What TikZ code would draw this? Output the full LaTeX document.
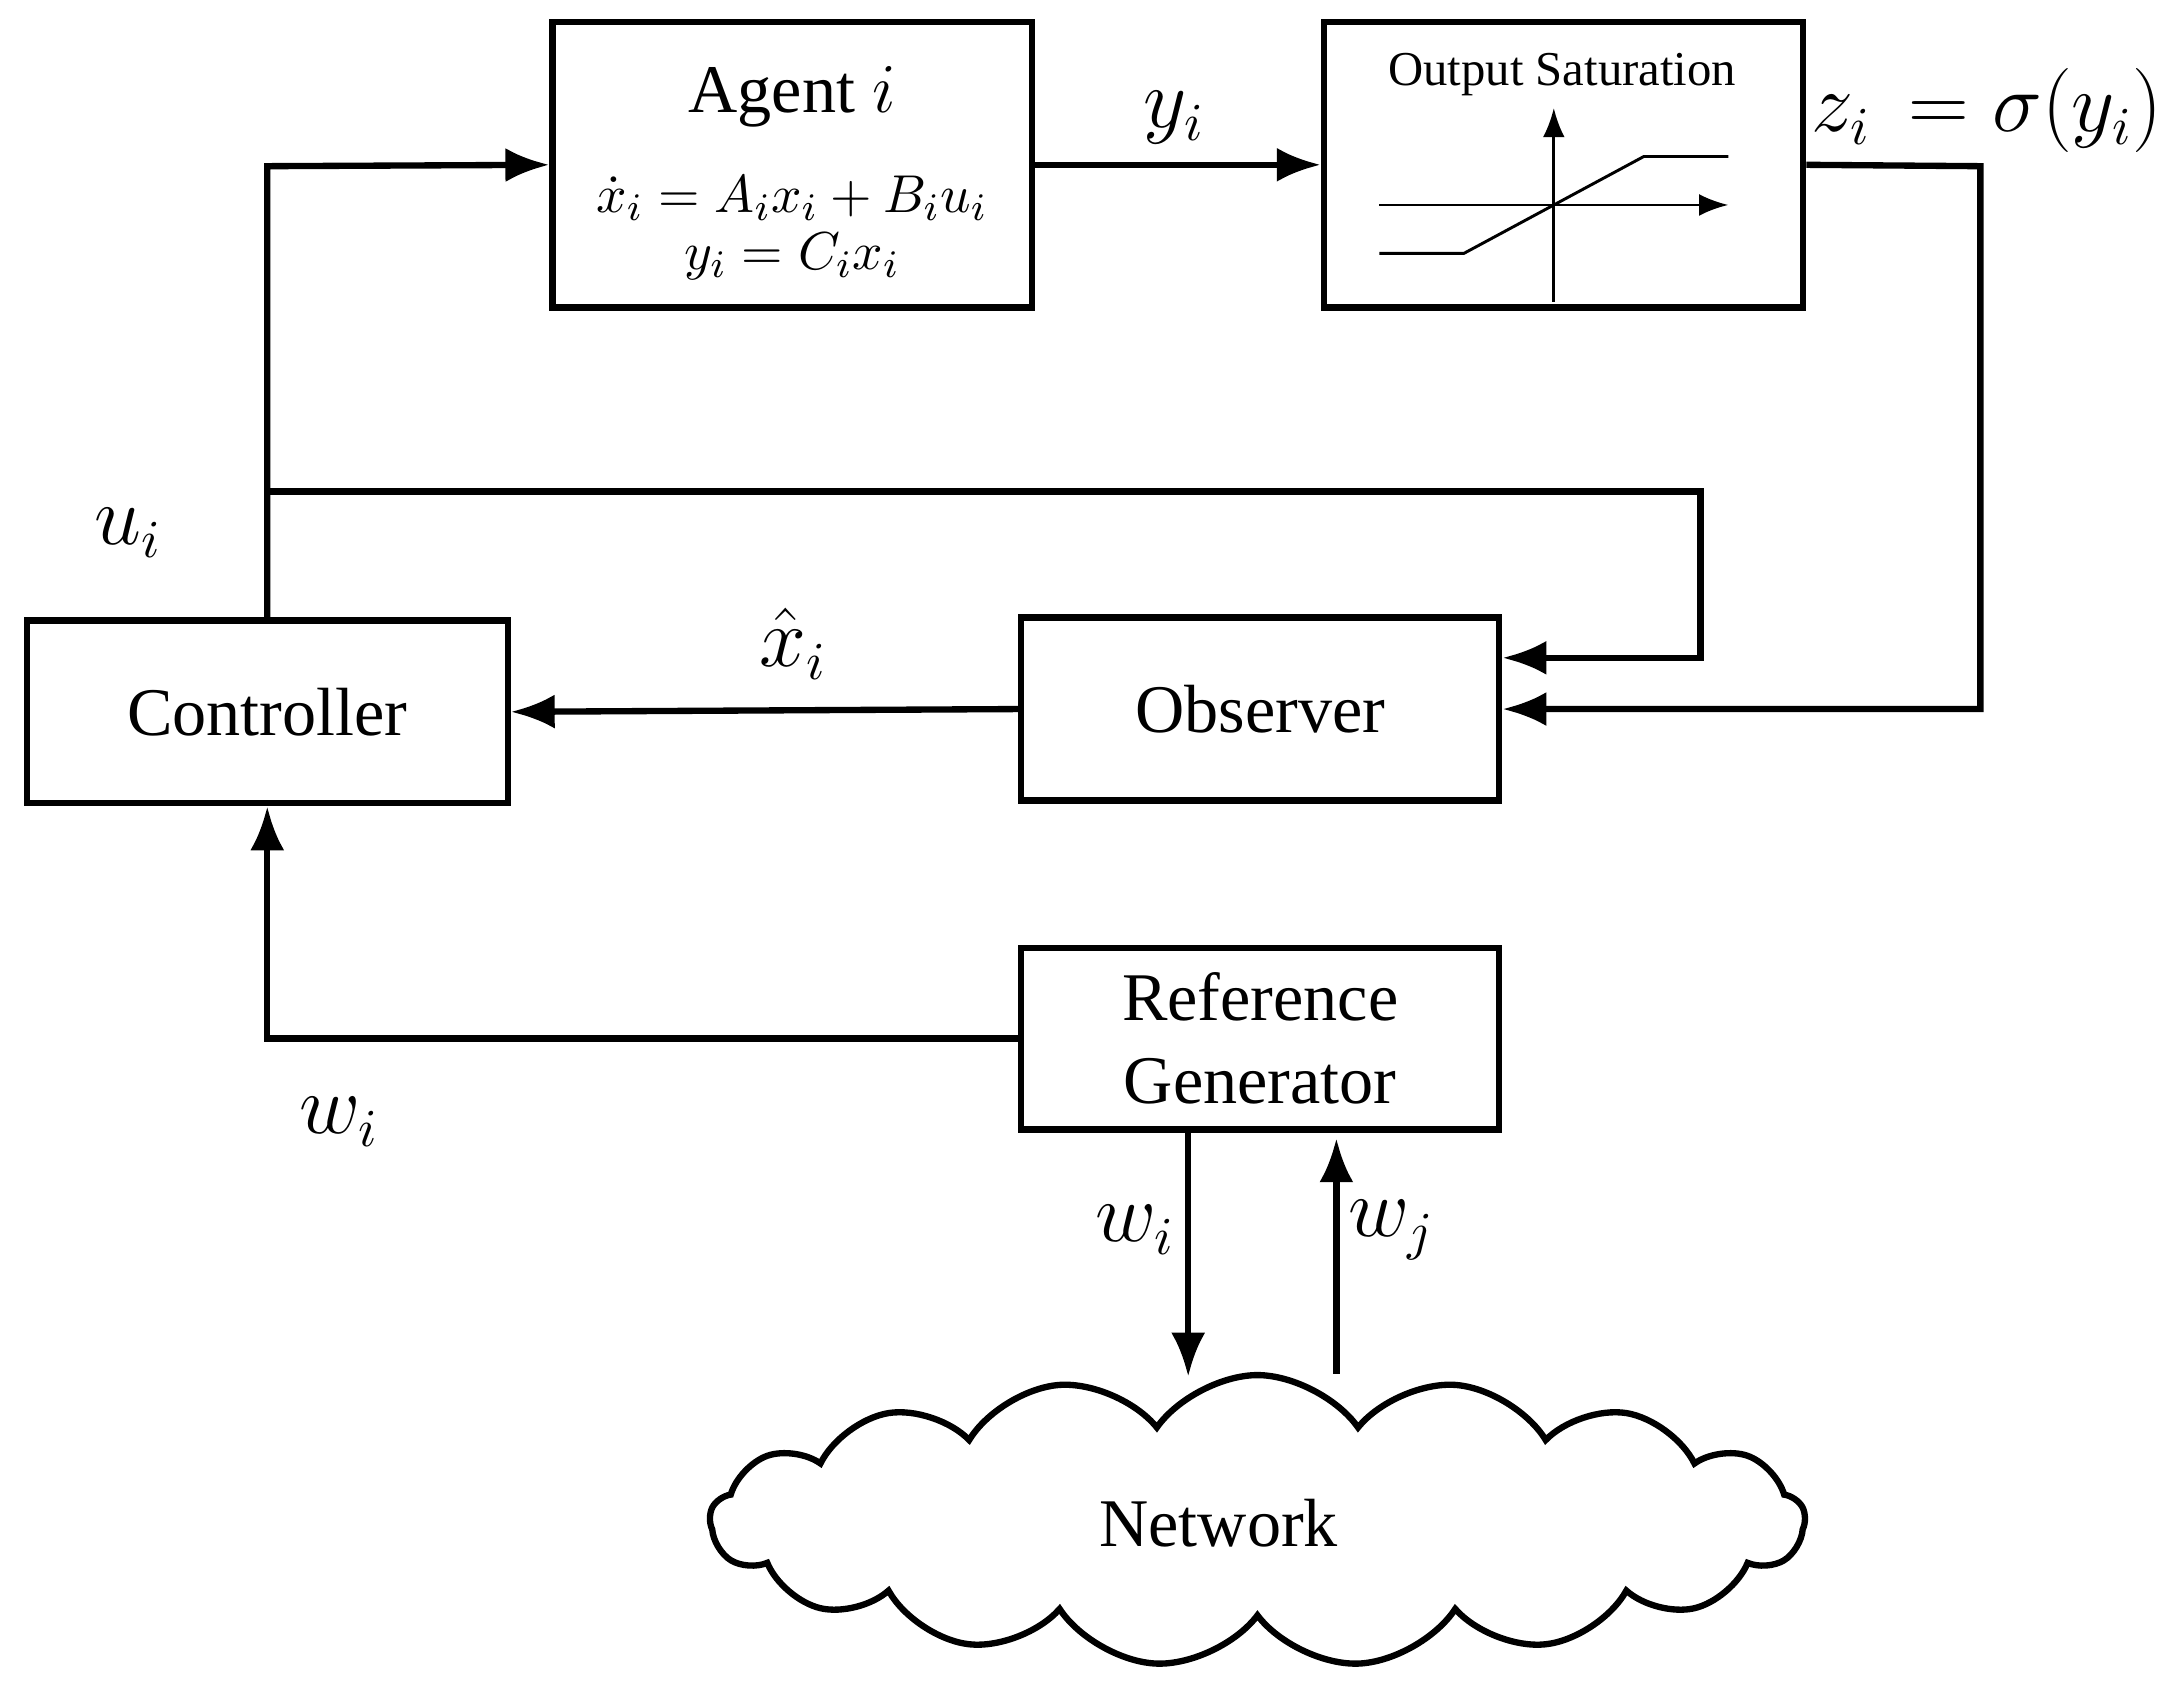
\documentclass[tikz,border=0pt]{standalone}
\usepackage{fontspec}
\setmainfont{Liberation Serif}
\usetikzlibrary{shapes.symbols,arrows.meta}
\begin{document}
\begin{tikzpicture}[x=0.01cm,y=-0.01cm,
  box/.style={draw,line width=1.3pt,inner sep=0pt},
  con/.style={line width=1.3pt,-{Latex[length=9pt,width=7pt]}},
  lbl/.style={font=\fontsize{16}{19}\selectfont},
  txt/.style={font=\fontsize{14}{17}\selectfont},
  eq/.style={font=\fontsize{11}{13}\selectfont,inner sep=0pt}]
\useasboundingbox (0,0) rectangle (1559,1233);
\node[box,minimum width=3.46cm,minimum height=2.06cm] (agent) at (572,119) {};
\node[txt] (agtitle) at (572,70) {Agent $i$};
\node[eq] (eq1) at (572,143) {$\dot{x}_i = A_i x_i + B_i u_i$};
\node[eq] (eq2) at (572,185) {$y_i = C_i x_i$};
\node[box,minimum width=3.46cm,minimum height=2.06cm] (sat) at (1129,119) {};
\node[font=\fontsize{10}{12}\selectfont] (sattitle) at (1128,54) {Output Saturation};
\draw[line width=0.6pt,-{Latex[length=6pt]}] (996,148) -- (1248,148);
\draw[line width=0.6pt,-{Latex[length=6pt]}] (1122,218) -- (1122,78);
\draw[line width=0.6pt] (996,183) -- (1057,183) -- (1187,113) -- (1248,113);
\node[box,minimum width=3.47cm,minimum height=1.32cm,txt] (ctrl) at (193,514) {Controller};
\node[box,minimum width=3.45cm,minimum height=1.32cm,txt] (obs) at (910,512) {Observer};
\node[box,minimum width=3.45cm,minimum height=1.31cm,txt,align=center] (ref) at (910,750) {Reference\\Generator};
\node[cloud,draw,line width=1.3pt,cloud puffs=17,cloud puff arc=110,aspect=3.7,minimum width=7.9cm,minimum height=2.1cm] (net) at (908,1098) {};
\node[txt] (nettxt) at (880,1100) {Network};
\coordinate (b1) at (193,355);
\draw[con] (ctrl.north) -- (193,120) -- (agent.west);
\draw[con] (b1) -- (1228,355) -- (1228,475) -- (1085,475);
\draw[con] (agent.east) -- (sat.west);
\draw[con] (sat.east) -- (1430,120) -- (1430,512) -- (1085,512);
\draw[con] (obs.west) -- (ctrl.east);
\draw[con] (ref.west) -- (193,750) -- (ctrl.south);
\draw[con] (858,818) -- (858,994);
\draw[con] (965,992) -- (965,822);
\node[lbl] (ly) at (848,85) {$y_i$};
\node[lbl] (lz) at (1435,80) {$z_i\, = \sigma\big(y_i\big)$};
\node[lbl] (lx) at (573,465) {$\hat{x}_i$};
\node[lbl] (lu) at (93,385) {$u_i$};
\node[lbl] (lw1) at (245,810) {$w_i$};
\node[lbl] (lw2) at (820,888) {$w_i$};
\node[lbl] (lw3) at (1005,888) {$w_j$};
\end{tikzpicture}
\end{document}
